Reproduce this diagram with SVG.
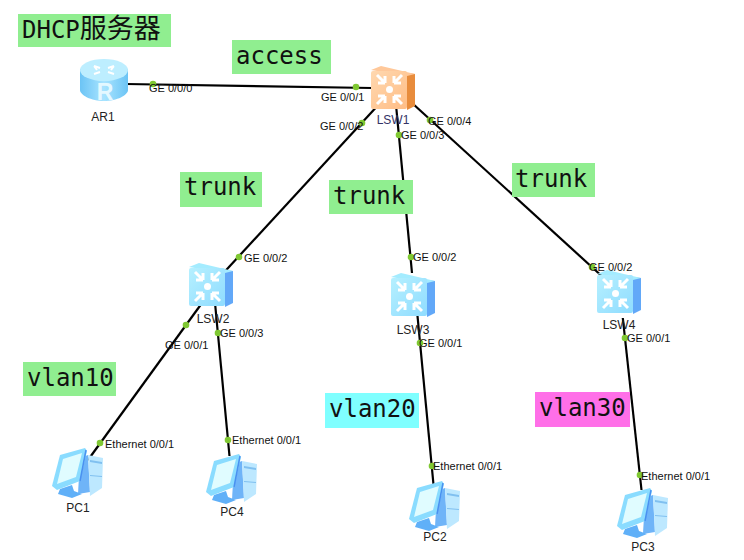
<svg xmlns="http://www.w3.org/2000/svg" xmlns:xlink="http://www.w3.org/1999/xlink" width="744" height="560" viewBox="0 0 744 560">
<style>
.bg{fill:#fff}
.tag{font:24px "DejaVu Sans Mono","Noto Sans CJK SC",monospace;fill:#111}
.cjk{font-size:27px}
.port{font:11px "Liberation Sans",Arial,sans-serif;fill:#111}
.name{font:12px "Liberation Sans",Arial,sans-serif;fill:#222}
.g{fill:#90ee90}
.c{fill:#7fffff}
.m{fill:#ff6fe8}
.l{stroke:#000;stroke-width:2.200;fill:none}
.d{fill:#7fc832}
</style>
<defs>
<linearGradient id="bf" x1="0" y1="0" x2="1" y2="1"><stop offset="0" stop-color="#b6f0ff"/><stop offset="1" stop-color="#8fdcff"/></linearGradient>
<linearGradient id="of" x1="0" y1="0" x2="1" y2="1"><stop offset="0" stop-color="#ffd8b0"/><stop offset="1" stop-color="#ffbd85"/></linearGradient>
<linearGradient id="rf" x1="0" y1="0" x2="1" y2="0"><stop offset="0" stop-color="#6cc4f5"/><stop offset="0.5" stop-color="#a8e4ff"/><stop offset="1" stop-color="#6cc4f5"/></linearGradient>
<g id="arrows" fill="none" stroke="#fff" stroke-width="3">
<path d="M6 9l8 8M14 17v-7M14 17h-7M31 9l-8 8M23 17v-7M23 17h7M6 38l8-8M14 30v7M14 30h-7M31 38l-8-8M23 30v7M23 30h7"/>
<circle cx="18.500" cy="23.500" r="3.500" fill="#fff" stroke="none"/>
</g>
<g id="sw">
<path d="M36 7l8 1v32l-8 4z" fill="#62a8f8"/>
<path d="M0 4l10-4 34 8-8 2z" fill="#a4ecff"/>
<rect x="0" y="5" width="36" height="38" rx="2" fill="url(#bf)"/>
<use xlink:href="#arrows"/>
</g>
<g id="swo">
<path d="M36 7l8 1v32l-8 4z" fill="#e88c3c"/>
<path d="M0 4l10-4 34 8-8 2z" fill="#ffc89a"/>
<rect x="0" y="5" width="36" height="38" rx="2" fill="url(#of)"/>
<use xlink:href="#arrows"/>
</g>
<g id="pc">
<path d="M28 10l8-3 2 37-12 2z" fill="#6fb4f8"/>
<path d="M36 7l15 3-1 30-12 8z" fill="#bde8ff"/>
<path d="M38 12l12 2v2l-12-2zM38 27l12 1v1l-12-1z" fill="#80c0f0"/>
<path d="M8 41l12-4 2 6 8 3-10 4-14-4z" fill="#60b0f8"/>
<path d="M8 7L33 0l2 3-7 30-23 9-5-4z" fill="#8adcff"/>
<path d="M34 2l-6 31" stroke="#4a90f0" stroke-width="1.500" fill="none"/>
<path d="M11 11l19-6-6 24-19 7z" fill="#e0fcff"/>
</g>
</defs>
<rect class="bg" width="744" height="560"/>
<g id="connectors">
<path class="l" d="M126 84L372 88"/>
<path class="l" d="M381 102L217 280"/>
<path class="l" d="M396 105L412 273"/>
<path class="l" d="M412 103L605 279"/>
<path class="l" d="M202 303L88 460"/>
<path class="l" d="M215 303L229.500 456"/>
<path class="l" d="M417.500 316L434 490"/>
<path class="l" d="M622.800 318L641.500 490"/>
</g>
<g id="dots">
<circle class="d" cx="153" cy="84" r="3.300"/><circle class="d" cx="356" cy="87" r="3.300"/>
<circle class="d" cx="362" cy="123" r="3.300"/><circle class="d" cx="399" cy="135" r="3.300"/><circle class="d" cx="430" cy="120" r="3.300"/>
<circle class="d" cx="239" cy="257" r="3.300"/><circle class="d" cx="186" cy="325" r="3.300"/><circle class="d" cx="218" cy="333" r="3.300"/>
<circle class="d" cx="411" cy="257" r="3.300"/><circle class="d" cx="420" cy="343" r="3.300"/>
<circle class="d" cx="592" cy="267" r="3.300"/><circle class="d" cx="625" cy="338" r="3.300"/>
<circle class="d" cx="100" cy="443" r="3.300"/><circle class="d" cx="228" cy="440" r="3.300"/><circle class="d" cx="432" cy="466" r="3.300"/><circle class="d" cx="640" cy="475" r="3.300"/>
</g>
<g id="port-labels" class="port">
<text x="149" y="92">GE 0/0/0</text><text x="321" y="101">GE 0/0/1</text><text x="320" y="130">GE 0/0/2</text>
<text x="401" y="139">GE 0/0/3</text><text x="428" y="125">GE 0/0/4</text><text x="244" y="262">GE 0/0/2</text>
<text x="165" y="349">GE 0/0/1</text><text x="220" y="337">GE 0/0/3</text><text x="413" y="261">GE 0/0/2</text>
<text x="419" y="347">GE 0/0/1</text><text x="589" y="271">GE 0/0/2</text><text x="627" y="342">GE 0/0/1</text>
<text x="105" y="448">Ethernet 0/0/1</text><text x="232" y="444">Ethernet 0/0/1</text><text x="433" y="470">Ethernet 0/0/1</text><text x="641" y="480">Ethernet 0/0/1</text>
</g>
<g id="AR1">
<path d="M80 69v21c0 5 11 11 24 11s24-6 24-11V69z" fill="url(#rf)"/>
<ellipse cx="104" cy="70" rx="24" ry="11" fill="#bdeeff"/>
<path d="M94 66l6 2M94 66l3 4M114 66l-6 2M114 66l-3 4M94 74l6-2M114 74l-6-2" stroke="#fff" stroke-width="2" fill="none"/>
<text x="105" y="100" text-anchor="middle" style="font:bold 23px 'Liberation Sans',sans-serif;fill:#e4f8ff">R</text>
<text class="name" x="103" y="121" text-anchor="middle">AR1</text>
</g>
<g id="LSW1"><use xlink:href="#swo" x="371" y="66"/><text class="name" x="393" y="124" text-anchor="middle" style="fill:#336">LSW1</text></g>
<g id="LSW2"><use xlink:href="#sw" x="189" y="263"/><text class="name" x="213" y="323" text-anchor="middle">LSW2</text></g>
<g id="LSW3"><use xlink:href="#sw" x="391" y="273"/><text class="name" x="413" y="334" text-anchor="middle">LSW3</text></g>
<g id="LSW4"><use xlink:href="#sw" x="597" y="270"/><text class="name" x="619" y="329" text-anchor="middle">LSW4</text></g>
<g id="PC1"><use xlink:href="#pc" x="52" y="448"/><text class="name" x="78" y="512" text-anchor="middle">PC1</text></g>
<g id="PC4"><use xlink:href="#pc" x="206" y="454"/><text class="name" x="232" y="516" text-anchor="middle">PC4</text></g>
<g id="PC2"><use xlink:href="#pc" x="409" y="481"/><text class="name" x="435" y="541" text-anchor="middle">PC2</text></g>
<g id="PC3"><use xlink:href="#pc" x="617" y="488"/><text class="name" x="643" y="551" text-anchor="middle">PC3</text></g>
<g id="tags">
<rect class="g" x="18" y="14" width="153" height="33"/><text class="tag" x="22" y="38">DHCP<tspan class="cjk">服务器</tspan></text>
<rect class="g" x="232" y="40" width="99" height="34"/><text class="tag" x="236" y="64">access</text>
<rect class="g" x="180" y="172" width="82" height="35"/><text class="tag" x="184" y="195">trunk</text>
<rect class="g" x="329" y="180" width="84" height="34"/><text class="tag" x="333" y="204">trunk</text>
<rect class="g" x="512" y="163" width="83" height="34"/><text class="tag" x="515" y="187">trunk</text>
<rect class="g" x="23" y="362" width="93" height="34"/><text class="tag" x="27" y="386">vlan10</text>
<rect class="c" x="325" y="393" width="94" height="35"/><text class="tag" x="329" y="417">vlan20</text>
<rect class="m" x="535" y="392" width="95" height="35"/><text class="tag" x="539" y="416">vlan30</text>
</g>
</svg>
